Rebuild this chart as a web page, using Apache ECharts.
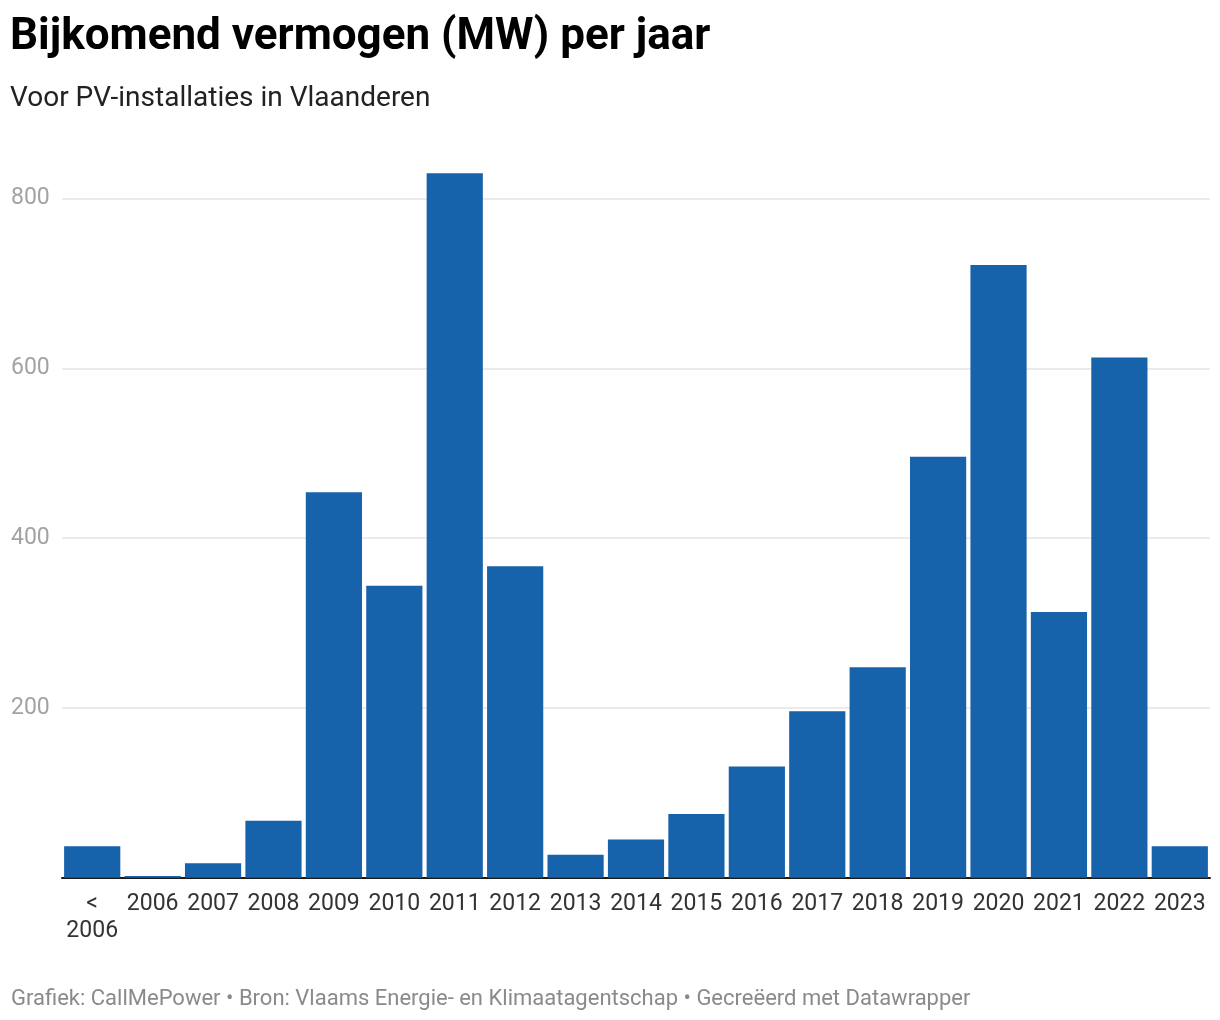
<!DOCTYPE html>
<html>
<head>
<meta charset="utf-8">
<script src="https://cdn.jsdelivr.net/npm/echarts@6/dist/echarts.min.js"></script>
<style>
html,body{margin:0;padding:0;background:#fff;}
#chart{width:1220px;height:1020px;}
</style>
</head>
<body>
<div id="chart"></div>
<script>
const titleText = "Bijkomend vermogen (MW) per jaar";
const subtitleText = "Voor PV-installaties in Vlaanderen";
const footerText = "Grafiek: CallMePower • Bron: Vlaams Energie- en Klimaatagentschap • Gecreëerd met Datawrapper";
const categories = ["< 2006","2006","2007","2008","2009","2010","2011","2012","2013","2014","2015","2016","2017","2018","2019","2020","2021","2022","2023"];
const values = [37, 2, 17, 67, 454, 344, 830, 367, 27, 45, 75, 131, 196, 248, 496, 722, 313, 613, 37];
const yTicks = [0, 200, 400, 600, 800];

const chart = echarts.init(document.getElementById('chart'), null, {renderer: 'canvas'});
const FONT = 'Roboto, "Noto Sans", sans-serif';
chart.setOption({
  animation: false,
  backgroundColor: '#ffffff',
  textStyle: {fontFamily: FONT},
  title: [
    {text: titleText, left: 10, top: 16, padding: 0, textStyle: {fontFamily: FONT, fontSize: 44, fontWeight: 'bold', color: '#000'}},
    {text: subtitleText, left: 10, top: 85, padding: 0, textStyle: {fontFamily: FONT, fontSize: 28, fontWeight: 'normal', color: '#222'}},
    {text: footerText, left: 11, top: 988, padding: 0, textStyle: {fontFamily: FONT, fontSize: 22, fontWeight: 'normal', color: '#8a8a8a'}}
  ],
  grid: {left: 62, right: 10, top: 198.7, bottom: 142.3, containLabel: false},
  xAxis: {
    type: 'category',
    data: categories,
    axisLine: {show: true, lineStyle: {color: '#1a1a1a', width: 2}},
    axisTick: {show: false},
    axisLabel: {
      interval: 0,
      margin: 13,
      fontSize: 23,
      lineHeight: 27,
      color: '#333',
      fontFamily: FONT,
      formatter: v => v.replace(' ', '\n')
    }
  },
  yAxis: {
    type: 'value',
    min: yTicks[0],
    max: yTicks[yTicks.length - 1],
    interval: 200,
    axisLine: {show: false},
    axisTick: {show: false},
    splitLine: {show: true, lineStyle: {color: '#e5e5e5', width: 1.5}},
    axisLabel: {
      margin: 51,
      align: 'left',
      fontSize: 23,
      color: '#a3a3a3',
      fontFamily: FONT,
      formatter: v => (v === 0 ? '' : String(v))
    }
  },
  series: [{
    type: 'bar',
    data: values,
    clip: false,
    barCategoryGap: '7%',
    itemStyle: {color: '#1662ab'}
  }]
});
</script>
</body>
</html>
